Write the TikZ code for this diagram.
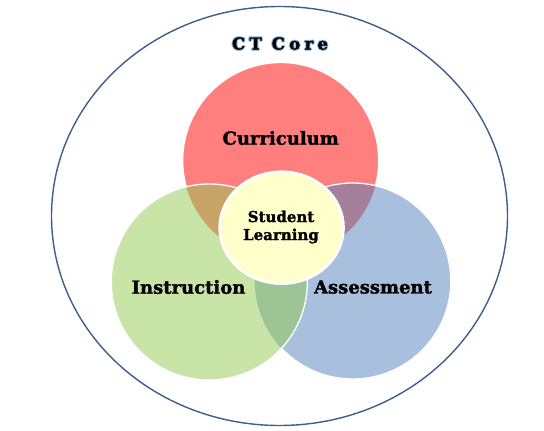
\documentclass[tikz,border=0pt]{standalone}
\usepackage{fontspec}
\setmainfont[BoldFeatures={FakeBold=1.5}]{DejaVu Serif}
\usepackage[copies]{contour}
\contourlength{0.9pt}
\usetikzlibrary{positioning}

\definecolor{coreblue}{HTML}{3F5E8C}
\definecolor{curred}{HTML}{FF7F7F}
\definecolor{insgreen}{HTML}{C8E4A6}
\definecolor{assblue}{HTML}{A8C0DE}
\definecolor{curins}{HTML}{C8A468}
\definecolor{curass}{HTML}{A6809A}
\definecolor{insass}{HTML}{9CC494}
\definecolor{stuyellow}{HTML}{FFFFCC}
\definecolor{glow}{HTML}{9DC3E6}

\begin{document}
\begin{tikzpicture}[x=1pt,y=-1pt,
                    ring/.style={draw=white,line width=1.3pt},
                    bigtext/.style={font=\bfseries\fontsize{18}{20}\selectfont},
                    smalltext/.style={font=\bfseries\fontsize{15}{18}\selectfont,align=center}
                ]
                    \useasboundingbox (0,0) rectangle (544,431);
                    \coordinate (core) at (279.5,216);
                    \coordinate (cur) at (280.7,160.5);
                    \coordinate (ins) at (209.3,282);
                    \coordinate (ass) at (352.8,281);
                    \coordinate (stu) at (281.6,227.7);
                    \draw[coreblue,line width=1.4pt] (core) ellipse [x radius=228pt,y radius=209.5pt];
                    % Curriculum
                    \fill[curred] (cur) circle [radius=98pt];
                    \draw[ring] (cur) circle [radius=98pt];
                    % Assessment
                    \fill[assblue] (ass) circle [radius=98pt];
                    \begin{scope}
                        \clip (cur) circle [radius=98pt];
                        \fill[curass] (ass) circle [radius=98pt];
                    \end{scope}
                    \draw[ring] (ass) circle [radius=98pt];
                    % Instruction
                    \fill[insgreen] (ins) circle [radius=98pt];
                    \begin{scope}
                        \clip (ins) circle [radius=98pt];
                        \fill[curins] (cur) circle [radius=98pt];
                        \fill[insass] (ass) circle [radius=98pt];
                    \end{scope}
                    \draw[ring] (ins) circle [radius=98pt];
                    % Student Learning
                    \filldraw[fill=stuyellow,draw=white,line width=2.5pt] (stu) ellipse [x radius=62pt,y radius=56pt];
                    \node[font=\bfseries\fontsize{16.5}{18}\selectfont\addfontfeature{LetterSpace=26}] (coretext) at (280,44) {\contour{glow}{CT Core}};
                    \node[bigtext] (curtext) at (280.7,138) {Curriculum};
                    \node[bigtext] (instext) at (188.5,287) {Instruction};
                    \node[bigtext] (asstext) at (373,287) {Assessment};
                    \node[smalltext] (stutext) at (281,227) {Student\\Learning};
                \end{tikzpicture}
\end{document}
